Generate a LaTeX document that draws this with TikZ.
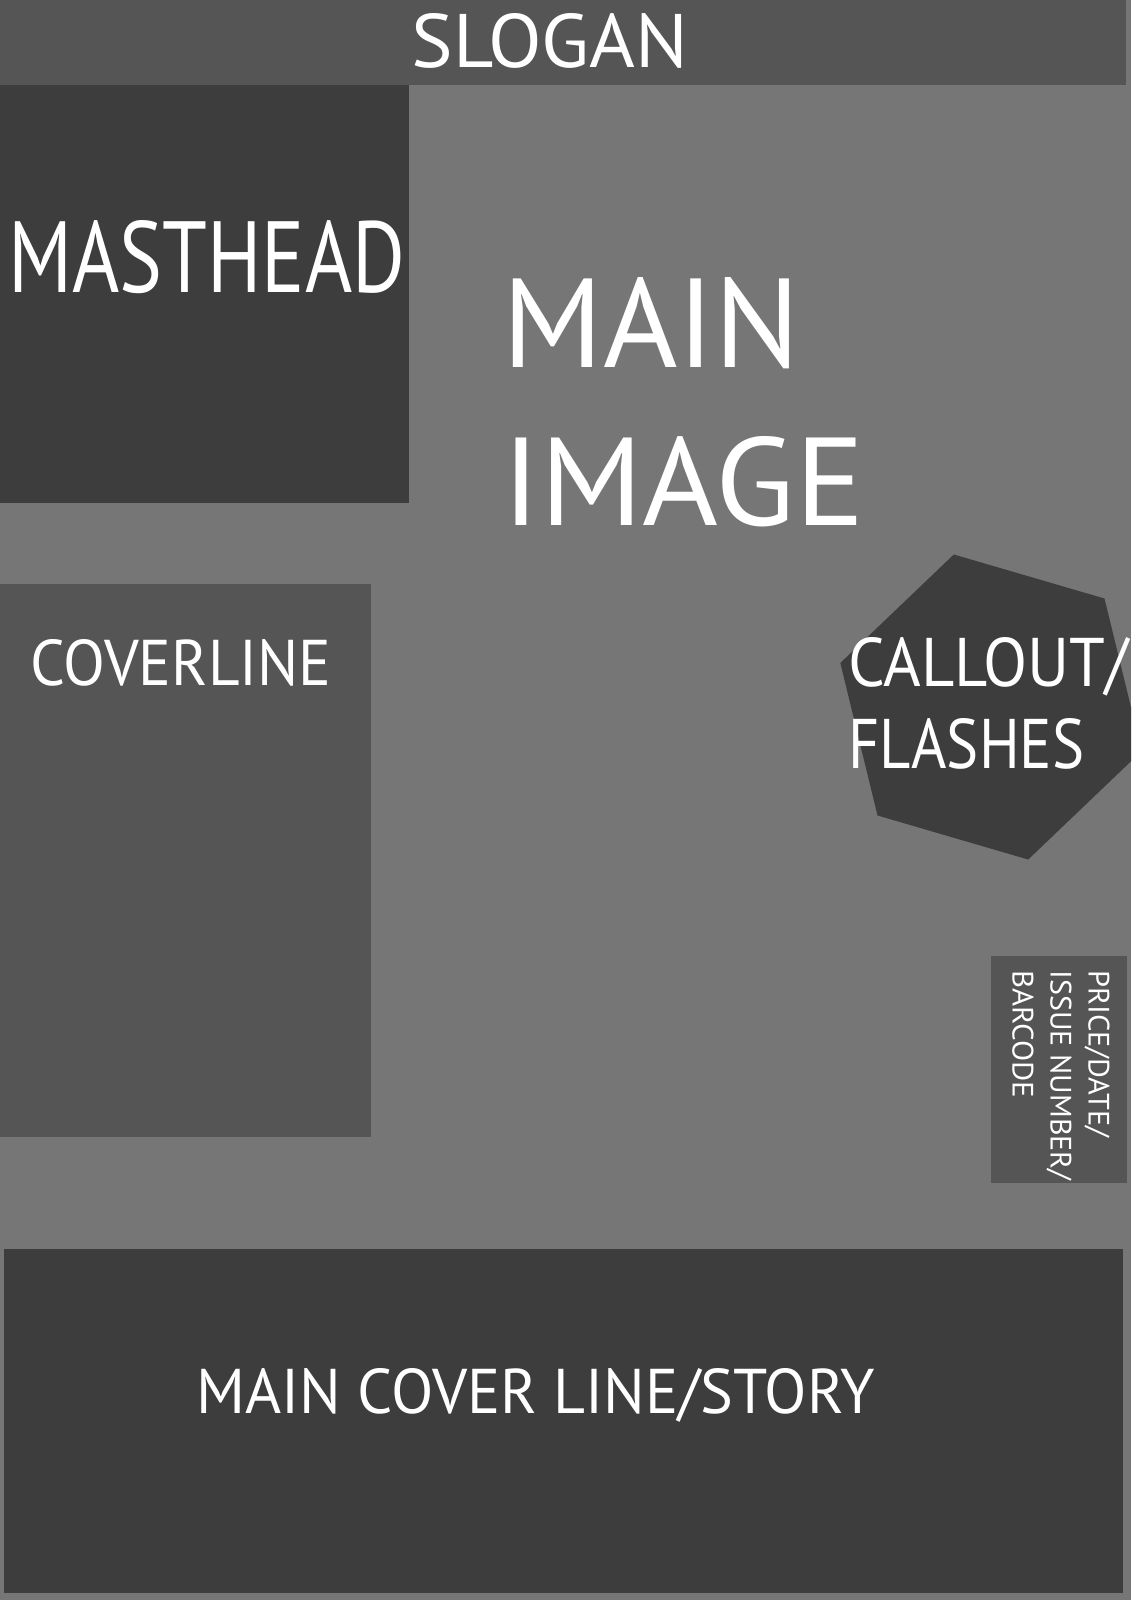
\documentclass[tikz,border=0pt]{standalone}
\usepackage{fontspec}
\setmainfont{PT Sans}
\usepackage{graphicx}
\usepackage{tikz}
\usetikzlibrary{positioning}
\usepackage{color}

\definecolor{pagegrey}{HTML}{767676}
\definecolor{darkgrey}{HTML}{3D3D3D}
\definecolor{midgrey}{HTML}{555555}

\newlength{\pxu}
\setlength{\pxu}{0.5pt}
\newcommand{\fitword}[3]{\resizebox{#1\pxu}{#2\pxu}{#3}}

\tikzset{
    darkbox/.style={fill=darkgrey},
    midbox/.style={fill=midgrey},
    covertext/.style={anchor=north west, inner sep=0pt, text=white, align=left}
}

\begin{document}
\begin{tikzpicture}[x=0.5pt, y=-0.5pt]
    \clip (0,0) rectangle (1131,1600);
    \fill[pagegrey] (0,0) rectangle (1131,1600);
    % blocks of the cover
    \fill[midbox]  (0,0) rectangle (1126,85);
    \fill[darkbox] (0,85) rectangle (409,503);
    \fill[midbox]  (0,584) rectangle (371,1137);
    \fill[midbox]  (991,956) rectangle (1127,1183);
    \fill[darkbox] (4,1249) rectangle (1123,1593);
    \coordinate (flashcentre) at (991,707);
    \fill[darkbox] (flashcentre) +(-103.7:157) -- +(-43.7:157) -- +(16.3:157)
        -- +(76.3:157) -- +(136.3:157) -- +(196.3:157) -- cycle;
    % texts
    \path
        node (slogan) at (411,13) [covertext] { \fitword{277}{54}{SLOGAN} }
        node (masthead) at (8,220) [covertext] { \fitword{397}{72}{MASTHEAD} }
        node (mainimage) at (502,277) [covertext, font=\fontsize{10pt}{79pt}\selectfont]
            { \fitword{298}{90}{MAIN}\\ \fitword{362}{89}{IMAGE} }
        node (coverline) at (30,639) [covertext] { \fitword{301}{46}{COVERLINE} }
        node (flashes) at (848,637) [covertext, font=\fontsize{10pt}{41pt}\selectfont]
            { \fitword{280}{49}{CALLOUT/}\\ \fitword{236}{50}{FLASHES} }
        node (price) at (1110,970) [covertext, rotate=-90, font=\fontsize{10pt}{19pt}\selectfont]
            { \fitword{167}{21}{PRICE/DATE/}\\ \fitword{210}{21}{ISSUE NUMBER/}\\ \fitword{128}{21}{BARCODE} }
        node (story) at (196,1368) [covertext] { \fitword{678}{45}{MAIN COVER LINE/STORY} };
\end{tikzpicture}
\end{document}
